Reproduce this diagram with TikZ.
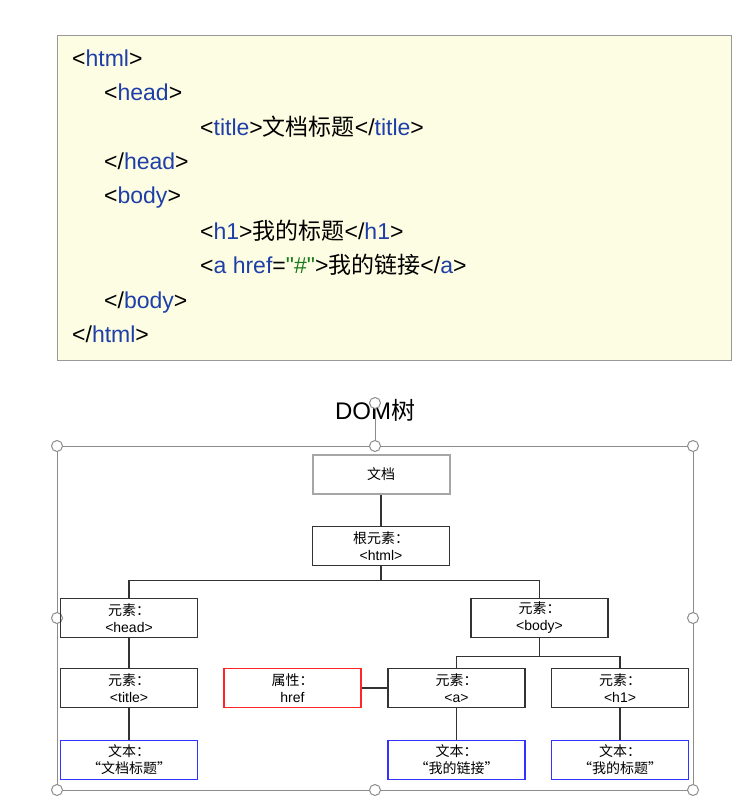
\documentclass[tikz,border=0pt]{standalone}
\usepackage{fontspec}
\defaultfontfeatures[\rmfamily]{}
\defaultfontfeatures{}
\setmainfont{Liberation Sans}
\newfontfamily\cjk{Noto Sans CJK SC}
\definecolor{tagblue}{HTML}{1F3FA8}
\definecolor{strgreen}{HTML}{1A7A1A}
\definecolor{codebg}{HTML}{FDFDE3}
\newcommand{\tg}[1]{\textcolor{tagblue}{#1}}
\begin{document}
\begin{tikzpicture}[x=1pt,y=-1pt,
    box/.style={rectangle, draw=black!80, line width=1.5pt, minimum width=137pt, minimum height=39pt, inner sep=0pt, align=center, font=\fontsize{14}{17}\selectfont},
    doc box/.style={box, draw=black!35, line width=2pt},
    attr box/.style={box, draw=red!85},
    text box/.style={box, draw=blue!80},
    code/.style={anchor=base west, inner sep=0pt, font=\fontsize{23}{26}\selectfont},
    handle/.style={circle, draw=black!45, line width=1pt, fill=white, minimum size=11pt, inner sep=0pt},
    link/.style={draw=black!80, line width=1.4pt}
]
\useasboundingbox (0,0) rectangle (736,802);

% Code block
\draw[draw=black!40, fill=codebg] (57,35) rectangle (731,360);
\node[code] (l1) at (72,67) {<\tg{html}>};
\node[code] (l2) at (104,101) {<\tg{head}>};
\node[code] (l3) at (200,136) {<\tg{title}>{\cjk 文档标题}</\tg{title}>};
\node[code] (l4) at (104,170) {</\tg{head}>};
\node[code] (l5) at (104,204) {<\tg{body}>};
\node[code] (l6) at (200,239) {<\tg{h1}>{\cjk 我的标题}</\tg{h1}>};
\node[code] (l7) at (200,273) {<\tg{a href}=\textcolor{strgreen}{\textquotedbl\#\textquotedbl}>{\cjk 我的链接}</\tg{a}>};
\node[code] (l8) at (104,308) {</\tg{body}>};
\node[code] (l9) at (72,342) {</\tg{html}>};

% Title
\node[font=\fontsize{24}{26}\selectfont] (title) at (375,410) {DOM{\cjk 树}};

% Selection frame
\draw[black!45] (57,446) rectangle (693,790);
\node[handle] (rot) at (375,403) {};
\draw[black!45] (rot) -- (375,446);
\foreach \p in {(57,446),(375,446),(693,446),(57,618),(693,618),(57,790),(375,790),(693,790)}
  \node[handle] at \p {};

% Tree
\node[doc box] (doc) at (381,474.5) {\cjk 文档};
\node[box] (html) at (381,546) {{\cjk 根元素：}\\<html>};
\node[box] (head) at (129,618) {{\cjk 元素：}\\<head>};
\node[box] (body) at (539.5,618) {{\cjk 元素：}\\<body>};
\node[box] (ttl) at (129,688) {{\cjk 元素：}\\<title>};
\node[attr box] (href) at (292.5,688) {{\cjk 属性：}\\href};
\node[box] (a) at (456.5,688) {{\cjk 元素：}\\<a>};
\node[box] (h1) at (620,688) {{\cjk 元素：}\\<h1>};
\node[text box] (t1) at (129,760) {{\cjk 文本：}\\{\cjk “文档标题”}};
\node[text box] (t2) at (456.5,760) {{\cjk 文本：}\\{\cjk “我的链接”}};
\node[text box] (t3) at (620,760) {{\cjk 文本：}\\{\cjk “我的标题”}};

% Connectors
\draw[link] (doc) -- (html);
\draw[link] (html.south) -- ++(0,14) -| (head.north);
\draw[link] (html.south) -- ++(0,14) -| (body.north);
\draw[link] (body.south) -- ++(0,18) -| (a.north);
\draw[link] (body.south) -- ++(0,18) -| (h1.north);
\draw[link] (head) -- (ttl);
\draw[link] (href) -- (a);
\draw[link] (ttl) -- (t1);
\draw[link] (a) -- (t2);
\draw[link] (h1) -- (t3);
\end{tikzpicture}
\end{document}
